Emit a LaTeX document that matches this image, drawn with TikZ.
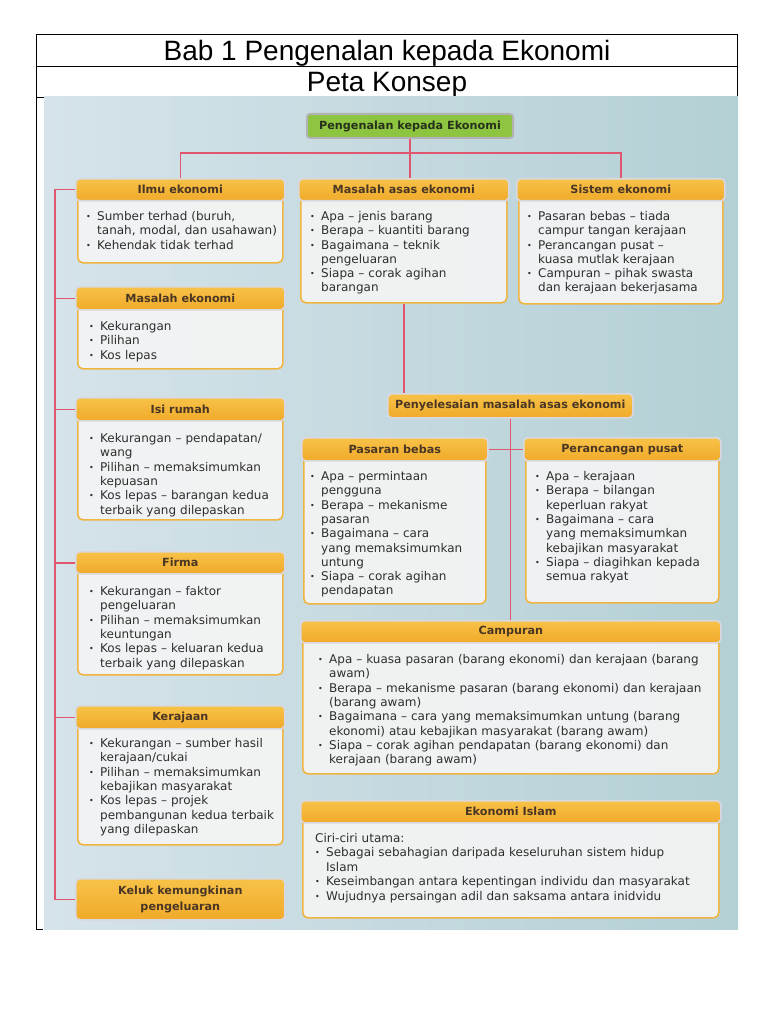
\documentclass[tikz,border=0pt]{standalone}
\usepackage{fontspec}
\setmainfont{Liberation Sans}
\newfontfamily\dvs{DejaVu Sans}
\usetikzlibrary{calc}
\definecolor{hdrtop}{HTML}{F7C248}
\definecolor{hdrbot}{HTML}{F0AA2A}
\definecolor{hdrline}{HTML}{D8D8DE}
\definecolor{bodyline}{HTML}{F0B440}
\definecolor{bodyfill}{HTML}{F4F4F4}
\definecolor{redln}{HTML}{E0566C}
\definecolor{hdrtxt}{HTML}{4A3624}
\definecolor{bodytxt}{HTML}{2E2E2E}
\definecolor{greenfill}{HTML}{8DC540}
\definecolor{greentxt}{HTML}{26301A}
\definecolor{bgl}{HTML}{D6E3EA}
\definecolor{bgr}{HTML}{B3D0D5}
\newcommand{\bl}[1]{\par\hangindent=11pt\hangafter=1\noindent\strut\makebox[11pt][l]{\fontsize{8}{8}\selectfont\raisebox{1pt}{•}}{\let\\\newline#1}\par}
\tikzset{
  hdr/.style={draw=hdrline, line width=1.6pt, rounded corners=4pt, top color=hdrtop, bottom color=hdrbot,
    inner sep=0pt, anchor=north west, font=\dvs\bfseries\fontsize{11.2}{13.5}\selectfont, text=hdrtxt},
  bodyrect/.style={draw=bodyline, line width=1.6pt, rounded corners=5pt, fill=bodyfill, fill opacity=0.93,
    inner sep=0pt, anchor=north west},
  btext/.style={inner sep=0pt, anchor=north west, align=left, font=\dvs\fontsize{12}{14.3}\selectfont, text=bodytxt},
  redline/.style={draw=redln, line width=1.4pt},
  topbox/.style={draw=gray!60, line width=2pt, rounded corners=3pt, fill=greenfill, inner sep=0pt,
    anchor=north west, font=\dvs\bfseries\fontsize{11.2}{13.5}\selectfont, text=greentxt},
  titletxt/.style={inner sep=0pt, anchor=base, font=\fontsize{28}{30}\selectfont},
  frameline/.style={draw=black, line width=0.9pt}
}
\begin{document}
\begin{tikzpicture}[x=1pt,y=-1pt]
\useasboundingbox (0,0) rectangle (768,1024);
% frame
\draw[frameline] (36,34) rectangle (737,97);
\draw[frameline] (36,66) -- (737,66);
\draw[frameline] (36,97) -- (36,929) -- (43,929);
\node[titletxt] (title) at (387,61) {Bab 1 Pengenalan kepada Ekonomi};
\node[titletxt] (sub) at (387,92) {Peta Konsep};
% background picture
\shade[left color=bgl, right color=bgr] (44,97) rectangle (738,929);

% top
\node[topbox, minimum width=206, minimum height=24] (top) at (306,113) {Pengenalan kepada Ekonomi};

% body rectangles
\node[bodyrect, minimum width=205, minimum height=74] (ilmuB) at (77,188) {};
\node[bodyrect, minimum width=206, minimum height=114] (masasB) at (300,188) {};
\node[bodyrect, minimum width=204, minimum height=115] (sisB) at (518,188) {};
\node[bodyrect, minimum width=205, minimum height=72] (maseB) at (77,296) {};
\node[bodyrect, minimum width=205, minimum height=112] (isiB) at (77,407) {};
\node[bodyrect, minimum width=205, minimum height=113] (firB) at (77,561) {};
\node[bodyrect, minimum width=205, minimum height=129] (kerB) at (77,715) {};
\node[bodyrect, minimum width=182, minimum height=156] (pasB) at (303,447) {};
\node[bodyrect, minimum width=193, minimum height=155] (perB) at (525,447) {};
\node[bodyrect, minimum width=416, minimum height=143] (camB) at (302,630) {};
\node[bodyrect, minimum width=416, minimum height=107] (islB) at (302,810) {};

% headers
\node[hdr, minimum width=209, minimum height=22] (ilmuH) at (75,178) {Ilmu ekonomi};
\node[hdr, minimum width=210, minimum height=22] (masasH) at (298,178) {Masalah asas ekonomi};
\node[hdr, minimum width=208, minimum height=22] (sisH) at (516,178) {Sistem ekonomi};
\node[hdr, minimum width=209, minimum height=23] (maseH) at (75,286) {Masalah ekonomi};
\node[hdr, minimum width=209, minimum height=23] (isiH) at (75,397) {Isi rumah};
\node[hdr, minimum width=209, minimum height=22] (firH) at (75,551) {Firma};
\node[hdr, minimum width=209, minimum height=23] (kerH) at (75,705) {Kerajaan};
\node[hdr, minimum width=209, minimum height=41, align=center] (kelH) at (75,878) {Keluk kemungkinan\\[2pt]pengeluaran};
\node[hdr, minimum width=245, minimum height=24] (penH) at (387,393) {Penyelesaian masalah asas ekonomi};
\node[hdr, minimum width=186, minimum height=23] (pasH) at (301,437) {Pasaran bebas};
\node[hdr, minimum width=197, minimum height=23] (perH) at (523,437) {Perancangan pusat};
\node[hdr, minimum width=420, minimum height=22] (camH) at (300,620) {Campuran};
\node[hdr, minimum width=420, minimum height=22] (islH) at (300,800) {Ekonomi Islam};

% body texts
\node[btext, text width=195] (ilmuT) at (86,206) {%
\bl{Sumber terhad (buruh,\\tanah, modal, dan usahawan)}
\bl{Kehendak tidak terhad}};
\node[btext, text width=195] (masasT) at (310,206) {%
\bl{Apa – jenis barang}
\bl{Berapa – kuantiti barang}
\bl{Bagaimana – teknik\\pengeluaran}
\bl{Siapa – corak agihan\\barangan}};
\node[btext, text width=195] (sisT) at (527,206) {%
\bl{Pasaran bebas – tiada\\campur tangan kerajaan}
\bl{Perancangan pusat –\\kuasa mutlak kerajaan}
\bl{Campuran – pihak swasta\\dan kerajaan bekerjasama}};
\node[btext, text width=193] (maseT) at (89,316) {%
\bl{Kekurangan}
\bl{Pilihan}
\bl{Kos lepas}};
\node[btext, text width=193] (isiT) at (89,428) {%
\bl{Kekurangan – pendapatan/\\wang}
\bl{Pilihan – memaksimumkan\\kepuasan}
\bl{Kos lepas – barangan kedua\\terbaik yang dilepaskan}};
\node[btext, text width=193] (firT) at (89,581) {%
\bl{Kekurangan – faktor\\pengeluaran}
\bl{Pilihan – memaksimumkan\\keuntungan}
\bl{Kos lepas – keluaran kedua\\terbaik yang dilepaskan}};
\node[btext, text width=193] (kerT) at (89,733) {%
\bl{Kekurangan – sumber hasil\\kerajaan/cukai}
\bl{Pilihan – memaksimumkan\\kebajikan masyarakat}
\bl{Kos lepas – projek\\pembangunan kedua terbaik\\yang dilepaskan}};
\node[btext, text width=178] (pasT) at (310,466) {%
\bl{Apa – permintaan\\pengguna}
\bl{Berapa – mekanisme\\pasaran}
\bl{Bagaimana – cara\\yang memaksimumkan\\untung}
\bl{Siapa – corak agihan\\pendapatan}};
\node[btext, text width=185] (perT) at (535,466) {%
\bl{Apa – kerajaan}
\bl{Berapa – bilangan\\keperluan rakyat}
\bl{Bagaimana – cara\\yang memaksimumkan\\kebajikan masyarakat}
\bl{Siapa – diagihkan kepada\\semua rakyat}};
\node[btext, text width=400] (camT) at (318,649) {%
\bl{Apa – kuasa pasaran (barang ekonomi) dan kerajaan (barang\\awam)}
\bl{Berapa – mekanisme pasaran (barang ekonomi) dan kerajaan\\(barang awam)}
\bl{Bagaimana – cara yang memaksimumkan untung (barang\\ekonomi) atau kebajikan masyarakat (barang awam)}
\bl{Siapa – corak agihan pendapatan (barang ekonomi) dan\\kerajaan (barang awam)}};
\node[btext, text width=400, font=\dvs\fontsize{12}{14.5}\selectfont] (islT) at (315,832) {%
\noindent\strut Ciri-ciri utama:
\bl{Sebagai sebahagian daripada keseluruhan sistem hidup\\Islam}
\bl{Keseimbangan antara kepentingan individu dan masyarakat}
\bl{Wujudnya persaingan adil dan saksama antara inidvidu}};

% connectors
\coordinate (spine) at (55,0);
\coordinate (bus) at (409,153);
\draw[redline] (top.south) -- (top.south |- masasH.north);
\draw[redline] (ilmuH.north) |- (bus) -| (sisH.north);
\draw[redline] (ilmuH.west) -- (ilmuH.west -| spine) -- (kelH.west -| spine) -- (kelH.west);
\draw[redline] (maseH.west) -- (maseH.west -| spine);
\draw[redline] (isiH.west) -- (isiH.west -| spine);
\draw[redline] (firH.west) -- (firH.west -| spine);
\draw[redline] (kerH.west) -- (kerH.west -| spine);
\draw[redline] (masasB.south) -- (masasB.south |- penH.north);
\draw[redline] ($(sisB.south)+(-24,0)$) -- ($(sisB.south)+(-24,0)$ |- penH.north);
\draw[redline] (penH.south) -- (penH.south |- camH.north);
\draw[redline] (pasH.east) -- (perH.west);
\end{tikzpicture}
\end{document}
